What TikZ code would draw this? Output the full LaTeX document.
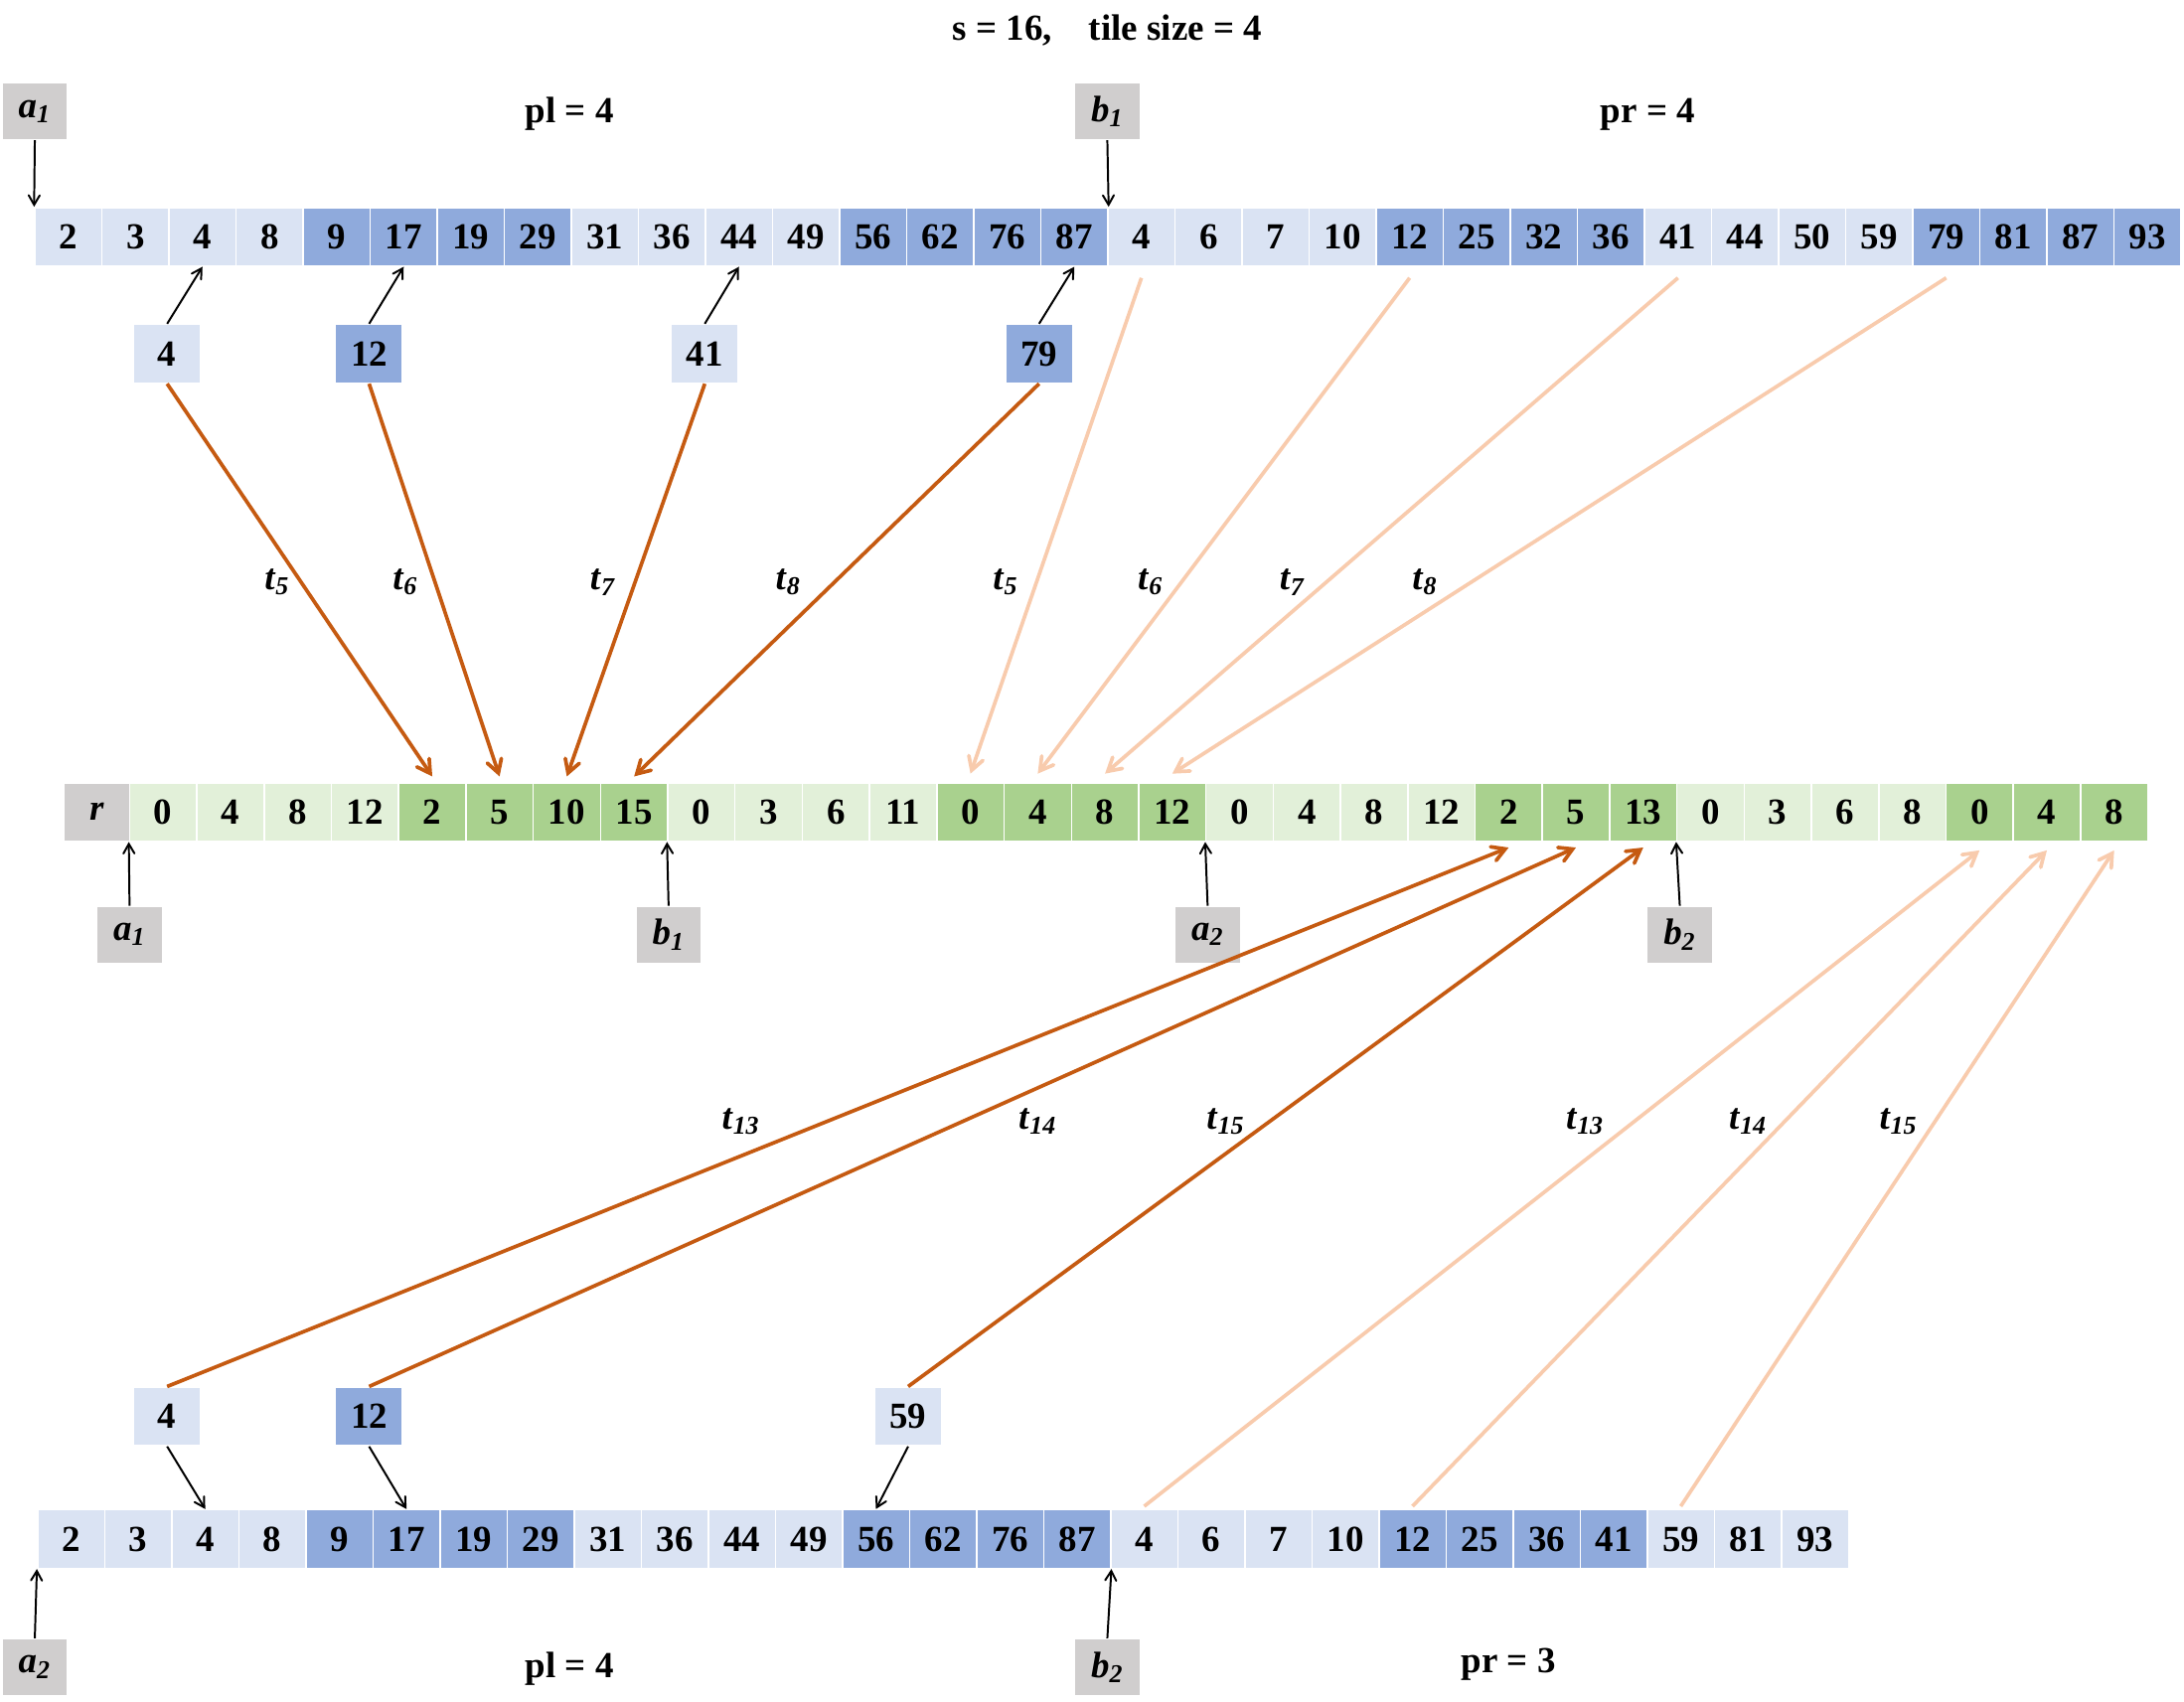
\documentclass[tikz,border=0pt]{standalone}
\usepackage{fontspec}
\setmainfont{Liberation Serif}
\usetikzlibrary{arrows,calc}
\definecolor{lblue}{HTML}{DAE3F3}
\definecolor{dblue}{HTML}{8FAADC}
\definecolor{lgreen}{HTML}{E2F0D9}
\definecolor{dgreen}{HTML}{A9D18E}
\definecolor{tag}{HTML}{D0CECE}
\definecolor{rust}{HTML}{C55A11}
\definecolor{peach}{HTML}{F8CBAD}
\newcommand{\bi}[2]{\textbf{\textit{#1}}\textsubscript{\textbf{\textit{#2}}}}
\tikzset{every picture/.style={>=angle 60,thick},
  cell/.style={draw=white,line width=0.6pt,minimum width=0.963cm,minimum height=0.84cm,inner sep=0pt,font=\fontsize{15}{18}\selectfont\bfseries},
  tagbox/.style={fill=tag,minimum width=0.92cm,minimum height=0.8cm,inner sep=0pt,font=\fontsize{15}{18}\selectfont},
  txt/.style={font=\fontsize{15}{18}\selectfont\bfseries},
  hot/.style={->,rust,line width=1.5pt},
  cold/.style={->,peach,line width=1.5pt}}
\begin{document}
\begin{tikzpicture}[x=0.02cm,y=-0.02cm]
\useasboundingbox (0,0) rectangle (1568,1222);
\node[txt] (title) at (795,22) {s = 16,\quad tile size = 4};
% top row
\foreach \v [count=\i from 0] in {2,3,4,8,9,17,19,29,31,36,44,49,56,62,76,87,4,6,7,10,12,25,32,36,41,44,50,59,79,81,87,93}{
  \pgfmathtruncatemacro{\g}{mod(int(\i/4),2)}
  \ifnum\g=0 \def\c{lblue}\else\def\c{dblue}\fi
  \node[cell,fill=\c] (T\i) at ({25+48.15*(\i+0.5)},170) {\v};
}
% middle row
\node[cell,fill=tag,minimum width=0.94cm] (r) at (69.5,583) {\textit{r}};
\foreach \v [count=\i from 0] in {0,4,8,12,2,5,10,15,0,3,6,11,0,4,8,12,0,4,8,12,2,5,13,0,3,6,8,0,4,8}{
  \pgfmathtruncatemacro{\g}{\i<4||(\i>7&&\i<12)||(\i>15&&\i<20)||(\i>22&&\i<27)?0:1}
  \ifnum\g=0 \def\c{lgreen}\else\def\c{dgreen}\fi
  \node[cell,fill=\c,minimum width=0.966cm] (M\i) at ({93+48.3*(\i+0.5)},583) {\v};
}
% bottom row
\foreach \v [count=\i from 0] in {2,3,4,8,9,17,19,29,31,36,44,49,56,62,76,87,4,6,7,10,12,25,36,41,59,81,93}{
  \pgfmathtruncatemacro{\g}{mod(int(\i/4),2)}
  \ifnum\g=0 \def\c{lblue}\else\def\c{dblue}\fi
  \node[cell,fill=\c] (B\i) at ({27+48.15*(\i+0.5)},1105) {\v};
}
% top labels
\node[tagbox] (ta1) at (25,80) {\bi{a}{1}};
\node[tagbox] (tb1) at (795,80) {\bi{b}{1}};
\node[txt] (pl1) at (409,82) {pl = 4};
\node[txt] (pr1) at (1183,82) {pr = 4};
\draw[->] (ta1.south) -- (T0.north west);
\draw[->] (tb1.south) -- (T15.north east);
\node[cell,fill=lblue] (S1) at (120,254) {4};
\node[cell,fill=dblue] (S2) at (265,254) {12};
\node[cell,fill=lblue] (S3) at (506,254) {41};
\node[cell,fill=dblue] (S4) at (746,254) {79};
\foreach \s/\t in {S1/T2,S2/T5,S3/T10,S4/T15}
  \draw[->] (\s.north) -- (\t.south);
\foreach \s/\t in {S1/M4,S2/M5,S3/M6,S4/M7}
  \draw[hot] (\s.south) -- ($(\t.north)+(0,-4)$);
\foreach \s/\t in {T16/M12,T20/M13,T24/M14,T28/M15}
  \draw[cold] ($(\s.south)+(0,8)$) -- ($(\t.north)+(0,-6)$);
\foreach \x/\k in {199/5,291/6,433/7,566/8,722/5,826/6,928/7,1023/8}
  \node[txt] (tt\x) at (\x,418) {\bi{t}{\k}};
% middle labels
\node[tagbox] (ma1) at (93,671) {\bi{a}{1}};
\node[tagbox] (mb1) at (480,671) {\bi{b}{1}};
\node[tagbox] (ma2) at (867,671) {\bi{a}{2}};
\node[tagbox] (mb2) at (1206,671) {\bi{b}{2}};
\draw[->] (ma1.north) -- (M0.south west);
\draw[->] (mb1.north) -- (M8.south west);
\draw[->] (ma2.north) -- (M16.south west);
\draw[->] (mb2.north) -- (M23.south west);
% bottom labels
\node[cell,fill=lblue] (U1) at (120,1017) {4};
\node[cell,fill=dblue] (U2) at (265,1017) {12};
\node[cell,fill=lblue] (U3) at (652,1017) {59};
\foreach \s/\t in {U1/B2,U2/B5,U3/B12}
  \draw[->] (\s.south) -- (\t.north);
\foreach \s/\t in {U1/M20,U2/M21,U3/M22}
  \draw[hot] (\s.north) -- ($(\t.south)+(0,4)$);
\foreach \s/\t in {B16/M27,B20/M28,B24/M29}
  \draw[cold] ($(\s.north)+(0,-2)$) -- ($(\t.south)+(0,6)$);
\foreach \x/\k in {532/13,745/14,880/15,1138/13,1255/14,1363/15}
  \node[txt] (tb\x) at (\x,805) {\bi{t}{\k}};
\node[tagbox] (ba2) at (25,1197) {\bi{a}{2}};
\node[tagbox] (bb2) at (795,1197) {\bi{b}{2}};
\draw[->] (ba2.north) -- (B0.south west);
\draw[->] (bb2.north) -- (B15.south east);
\node[txt] (pl2) at (409,1198) {pl = 4};
\node[txt] (pr2) at (1083,1195) {pr = 3};
\end{tikzpicture}
\end{document}
